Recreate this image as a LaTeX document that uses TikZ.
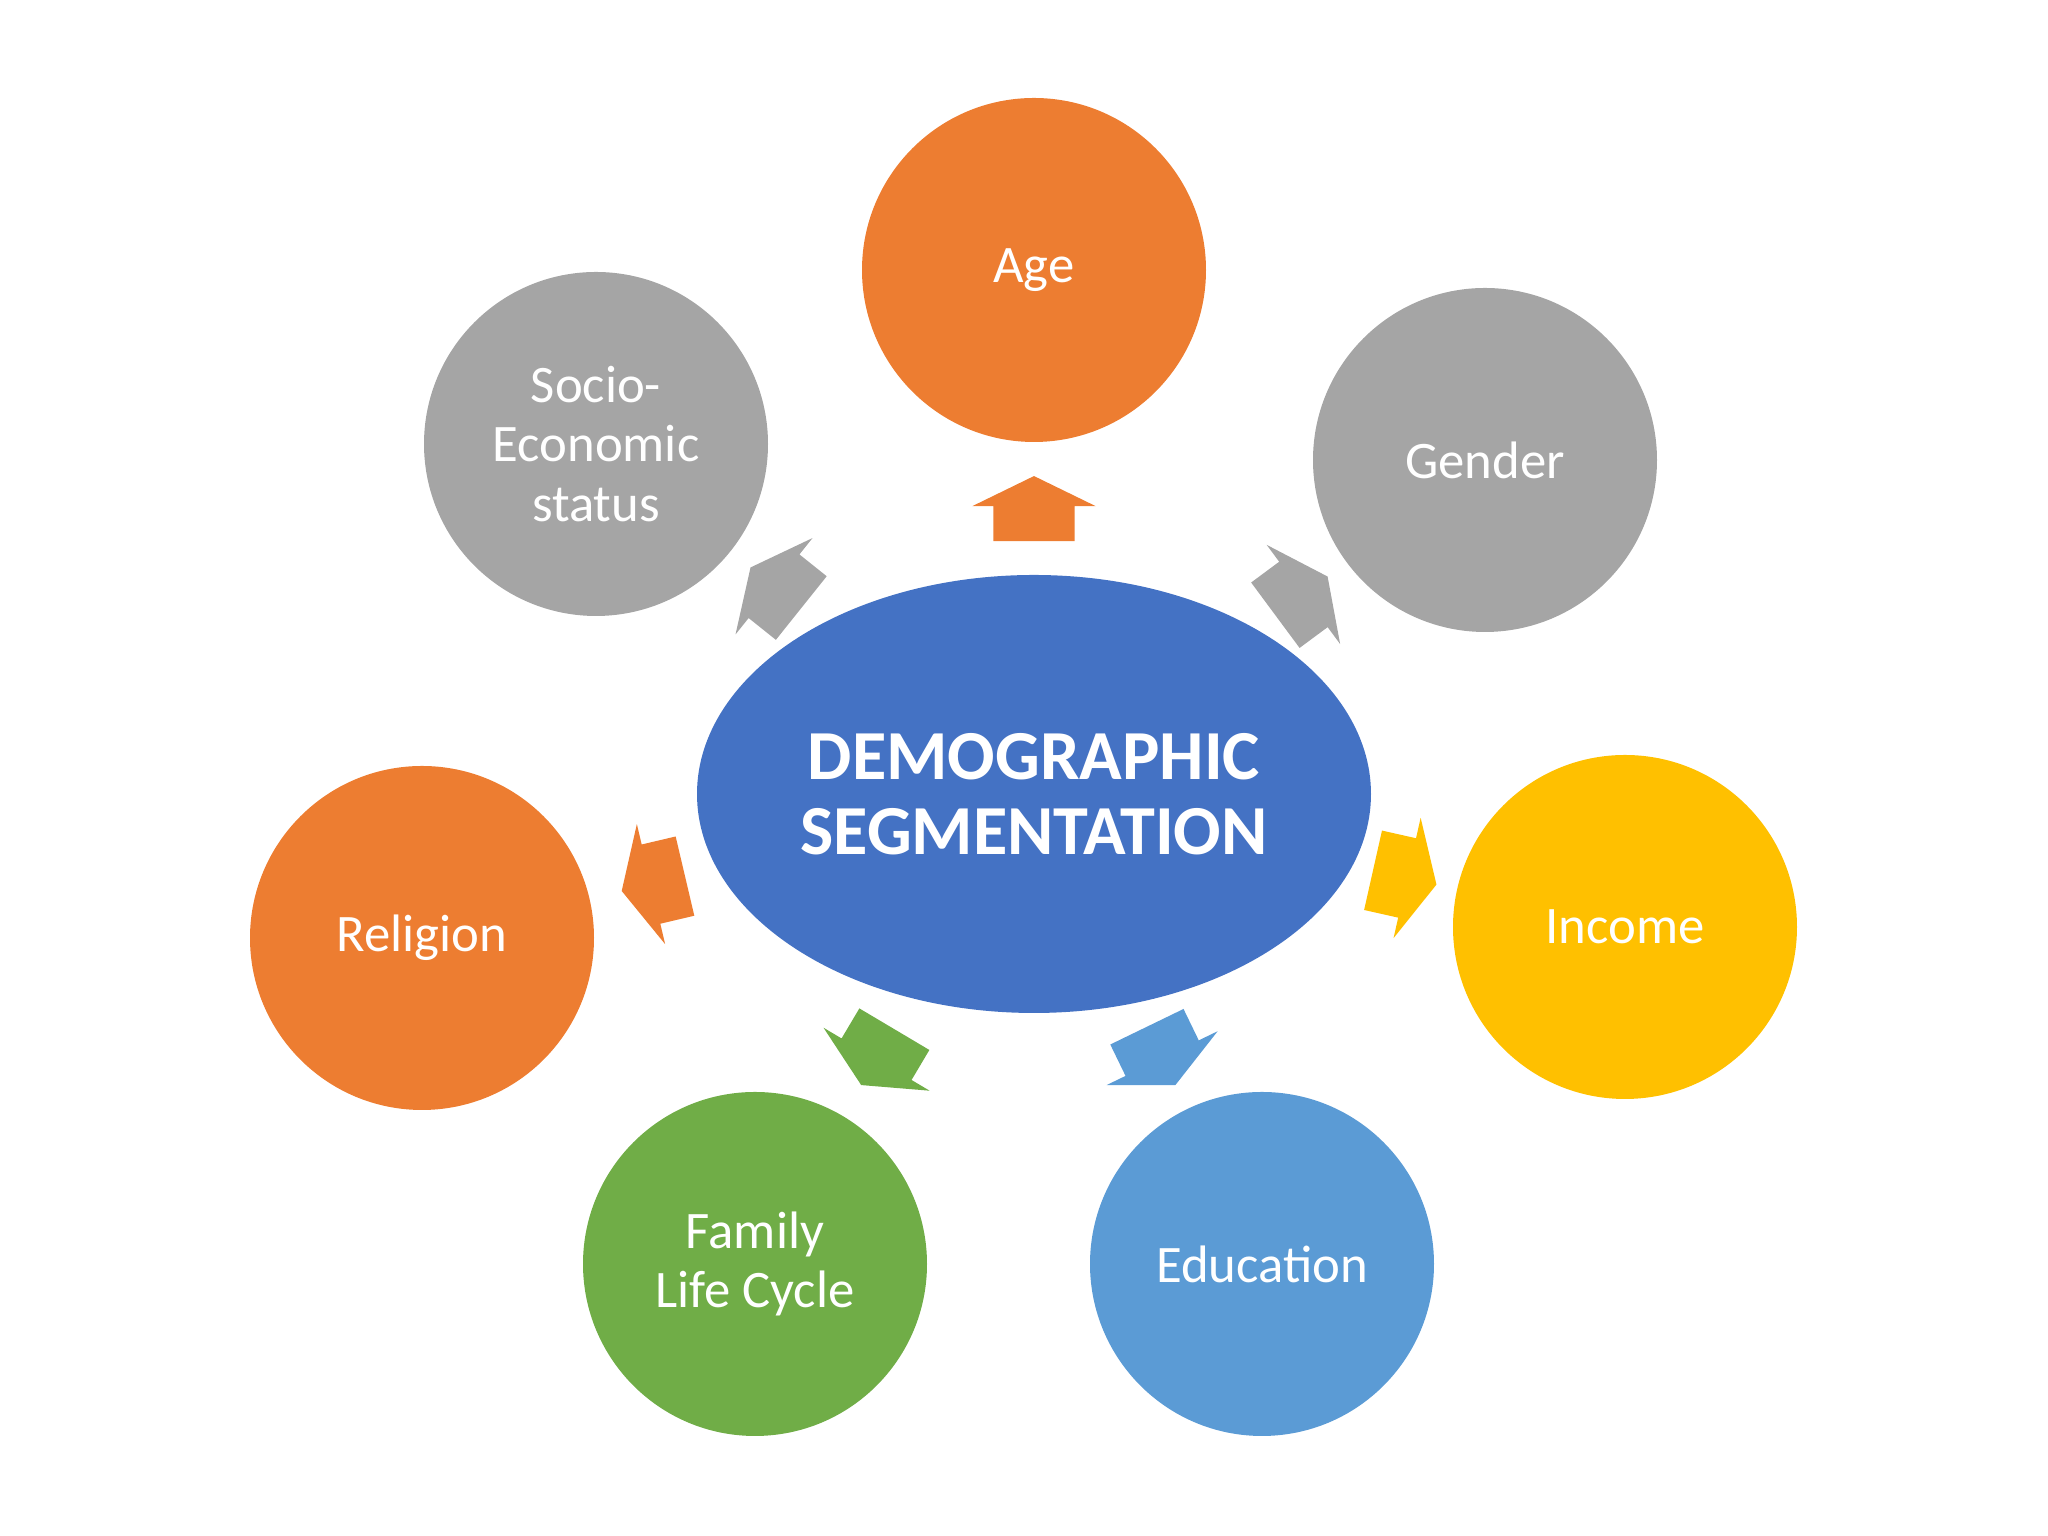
\documentclass[tikz,border=0pt]{standalone}
\usepackage{fontspec}
\setmainfont{Carlito}
\usetikzlibrary{shapes.geometric,shapes.arrows}
\definecolor{segOrange}{HTML}{ED7D31}
\definecolor{segGray}{HTML}{A5A5A5}
\definecolor{segBlue}{HTML}{4472C4}
\definecolor{segYellow}{HTML}{FFC000}
\definecolor{segGreen}{HTML}{70AD47}
\definecolor{segLight}{HTML}{5B9BD5}
\begin{document}
\begin{tikzpicture}[
		every node/.style={text=white,align=center},
		topic/.style={circle,minimum size=3.44cm,inner sep=0pt,font=\fontsize{15}{17}\selectfont},
		hub/.style={ellipse,minimum width=6.74cm,minimum height=4.38cm,inner sep=0pt,fill=segBlue,font=\fontsize{20}{21.5}\selectfont\bfseries},
		blk/.style={single arrow,single arrow head extend=0.21cm,single arrow tip angle=128,minimum height=0.65cm,minimum width=1.22cm,inner xsep=0pt,inner ysep=0.4cm,midway,sloped,allow upside down,xshift=-0.1cm}
		]
		\useasboundingbox (0,0) rectangle (20.48,15.36);
		\node[hub] (ds) at (10.34,7.42) {DEMOGRAPHIC\\SEGMENTATION};
		\node[topic,fill=segOrange] (age) at (10.34,12.66) {Age};
		\node[topic,fill=segGray] (gender) at (14.85,10.76) {Gender};
		\node[topic,fill=segGray] (socio) at (5.96,10.92) {Socio-\\Economic\\status};
		\node[topic,fill=segOrange] (religion) at (4.22,5.98) {Religion};
		\node[topic,fill=segYellow] (income) at (16.25,6.09) {Income};
		\node[topic,fill=segGreen] (family) at (7.55,2.72) {Family\\Life Cycle};
		\node[topic,fill=segLight] (edu) at (12.62,2.72) {Education};
		\path (ds) -- (age) node[blk,fill=segOrange] {};
		\path (ds) -- (gender) node[blk,fill=segGray] {};
		\path (ds) -- (socio) node[blk,fill=segGray] {};
		\path (ds) -- (religion) node[blk,fill=segOrange] {};
		\path (ds) -- (income) node[blk,fill=segYellow] {};
		\path (ds) -- (family) node[blk,fill=segGreen] {};
		\path (ds) -- (edu) node[blk,fill=segLight] {};
	\end{tikzpicture}
\end{document}
